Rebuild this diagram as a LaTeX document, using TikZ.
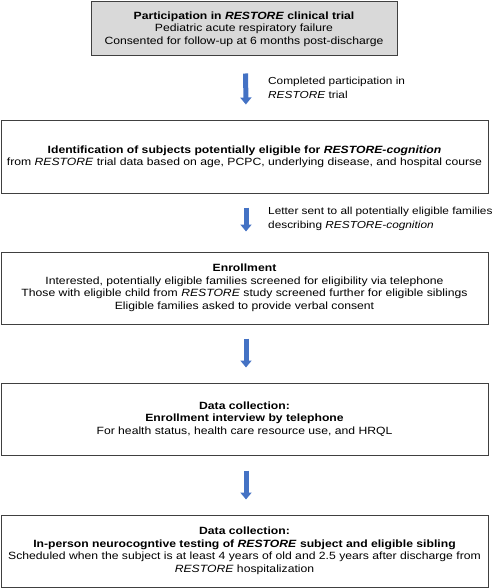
\documentclass[tikz,border=0pt]{standalone}
\usepackage{fontspec}
\setmainfont{Liberation Sans}[FakeStretch=1.16]
\usetikzlibrary{arrows.meta}

\definecolor{arrowblue}{HTML}{4472C4}
\definecolor{boxline}{HTML}{404040}
\definecolor{boxgrey}{HTML}{D9D9D9}

\tikzset{%
  every box/.style={
    rectangle,
    draw=boxline,
    line width=1pt,
    align=center,
    inner sep=1pt,
    minimum height=72pt,
    minimum width=487pt,
    font=\fontsize{10.5}{12.5}\selectfont
  },
  box first/.style={
    fill=boxgrey,
    minimum width=306pt,
    minimum height=54pt
  },
  flow arrow/.style={
    draw=arrowblue,
    line width=5pt,
    -{Triangle[width=11pt,length=7pt,fill=arrowblue]}
  },
  flow label/.style={
    anchor=west,
    align=left,
    inner sep=0pt,
    font=\fontsize{10.2}{14}\selectfont
  },
}

\begin{document}
\begin{tikzpicture}[x=1pt, y=-1pt]

\useasboundingbox (0,0) rectangle (500,588);

\node [every box, box first] (box-1) at (244,29)
  {\textbf{Participation in \textit{RESTORE} clinical trial}\\
   Pediatric acute respiratory failure\\
   Consented for follow-up at 6 months post-discharge};

\node [every box] (box-2) at (244.5,157)
  {\textbf{Identification of subjects potentially eligible for \textit{RESTORE-cognition}}\\
   from \textit{RESTORE} trial data based on age, PCPC, underlying disease, and hospital course};

\node [every box] (box-3) at (244.5,288)
  {\textbf{Enrollment}\\
   Interested, potentially eligible families screened for eligibility via telephone\\
   Those with eligible child from \textit{RESTORE} study screened further for eligible siblings\\
   Eligible families asked to provide verbal consent};

\node [every box] (box-4) at (244.5,419)
  {\textbf{Data collection:}\\
   \textbf{Enrollment interview by telephone}\\
   For health status, health care resource use, and HRQL};

\node [every box] (box-5) at (244.5,551)
  {\textbf{Data collection:}\\
   \textbf{In-person neurocogntive testing of \textit{RESTORE} subject and eligible sibling}\\
   Scheduled when the subject is at least 4 years of old and 2.5 years after discharge from\\
   \textit{RESTORE} hospitalization};

\foreach \i/\j/\s/\e in {1/2/17/16, 2/3/14/20, 3/4/14/15, 4/5/15/15}
  \draw [flow arrow, shorten <=\s pt, shorten >=\e pt]
    ([xshift=1.5pt]box-\i.south) -- ([xshift=1.5pt]box-\j.north);

\node [flow label] (label-1) at (268,88)
  {Completed participation in\\\textit{RESTORE} trial};

\node [flow label] (label-2) at (268,219)
  {Letter sent to all potentially eligible families\\describing \textit{RESTORE-cognition}};

\end{tikzpicture}
\end{document}
